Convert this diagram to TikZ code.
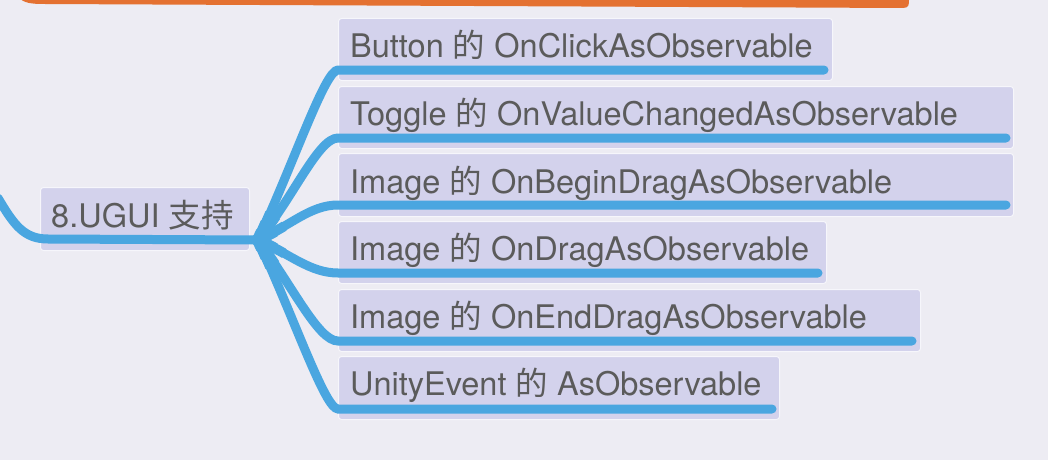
\documentclass[tikz,border=0pt]{standalone}
\usepackage{fontspec}
\setmainfont{TeX Gyre Heros}
\newfontfamily\cjk{Noto Sans CJK SC}
\definecolor{bgc}{HTML}{EDECF3}
\definecolor{boxc}{HTML}{D3D2EC}
\definecolor{boxb}{HTML}{F6F6FB}
\definecolor{bluec}{HTML}{4AA6E0}
\definecolor{orangec}{HTML}{E47131}
\definecolor{textc}{HTML}{5B5B5B}
\tikzset{
  topicbox/.style={draw=boxb, fill=boxc, line width=1pt, rounded corners=3pt, anchor=north west, inner sep=0pt},
  childtext/.style={anchor=base west, inner sep=0pt, text=textc, font=\fontsize{32.5}{36}\selectfont},
  roottext/.style={anchor=base west, inner sep=0pt, text=textc, font=\fontsize{32.5}{36}\selectfont},
  branch/.style={draw=bluec, line width=9pt, line cap=round},
  rootbranch/.style={draw=bluec, line cap=round},
}
\begin{document}
\begin{tikzpicture}[x=1pt,y=-1pt]
\fill[bgc] (0,0) rectangle (1048,460);
\useasboundingbox (0,0) rectangle (1048,460);
% orange branch at top
\fill[orangec] (18,-3) .. controls (24,3) and (30,4) .. (45,4) -- (903,8) .. controls (909,8) and (909,4) .. (909,0) -- (909,-3) -- cycle;
% boxes
\node[topicbox, minimum width=209, minimum height=63] (rootbox) at (40,187) {};
\node[topicbox, minimum width=494, minimum height=62] (b1) at (338,18) {};
\node[topicbox, minimum width=675, minimum height=62] (b2) at (338,86) {};
\node[topicbox, minimum width=675, minimum height=63] (b3) at (338,153) {};
\node[topicbox, minimum width=488, minimum height=62] (b4) at (338,221) {};
\node[topicbox, minimum width=582, minimum height=62] (b5) at (338,289) {};
\node[topicbox, minimum width=441, minimum height=63] (b6) at (338,356) {};
% connector coordinates
\coordinate (in) at (-2,198);
\coordinate (hub) at (258,240);
\coordinate (c1) at (338,70);
\coordinate (c2) at (338,138);
\coordinate (c3) at (338,205);
\coordinate (c4) at (338,273);
\coordinate (c5) at (338,341);
\coordinate (c6) at (338,409);
\coordinate (e1) at (824,70);
\coordinate (e2) at (1006,138);
\coordinate (e3) at (1006,205);
\coordinate (e4) at (818,273);
\coordinate (e5) at (912,341);
\coordinate (e6) at (772,409);
% branches
\draw[branch] (in) .. controls (14,225) and (24,239) .. (48,239) -- (hub);
\draw[branch] (hub) .. controls (295,160) and (325,70) .. (c1) -- (e1);
\draw[branch] (hub) .. controls (292,200) and (318,138) .. (c2) -- (e2);
\draw[branch] (hub) .. controls (290,226) and (310,205) .. (c3) -- (e3);
\draw[branch] (hub) .. controls (290,254) and (310,273) .. (c4) -- (e4);
\draw[branch] (hub) .. controls (292,285) and (318,341) .. (c5) -- (e5);
\draw[branch] (hub) .. controls (295,320) and (325,409) .. (c6) -- (e6);
% slightly thicker roots of the branches near the hub
\foreach \w/\r in {10/30, 11/20, 12/11} {
\begin{scope}
\clip (hub) circle (\r);
\draw[rootbranch, line width=\w pt] (hub) .. controls (295,160) and (325,70) .. (c1);
\draw[rootbranch, line width=\w pt] (hub) .. controls (292,200) and (318,138) .. (c2);
\draw[rootbranch, line width=\w pt] (hub) .. controls (290,226) and (310,205) .. (c3);
\draw[rootbranch, line width=\w pt] (hub) .. controls (290,254) and (310,273) .. (c4);
\draw[rootbranch, line width=\w pt] (hub) .. controls (292,285) and (318,341) .. (c5);
\draw[rootbranch, line width=\w pt] (hub) .. controls (295,320) and (325,409) .. (c6);
\end{scope}
}
% texts
\node[roottext] (root) at (51,227) {8.UGUI {\cjk 支持}};
\node[childtext] (t1) at (350,57) {Button {\cjk 的} OnClickAsObservable};
\node[childtext] (t2) at (350,125) {Toggle {\cjk 的} OnValueChangedAsObservable};
\node[childtext] (t3) at (350,193) {Image {\cjk 的} OnBeginDragAsObservable};
\node[childtext] (t4) at (350,260) {Image {\cjk 的} OnDragAsObservable};
\node[childtext] (t5) at (350,328) {Image {\cjk 的} OnEndDragAsObservable};
\node[childtext] (t6) at (350,395) {UnityEvent {\cjk 的} AsObservable};
\end{tikzpicture}
\end{document}
